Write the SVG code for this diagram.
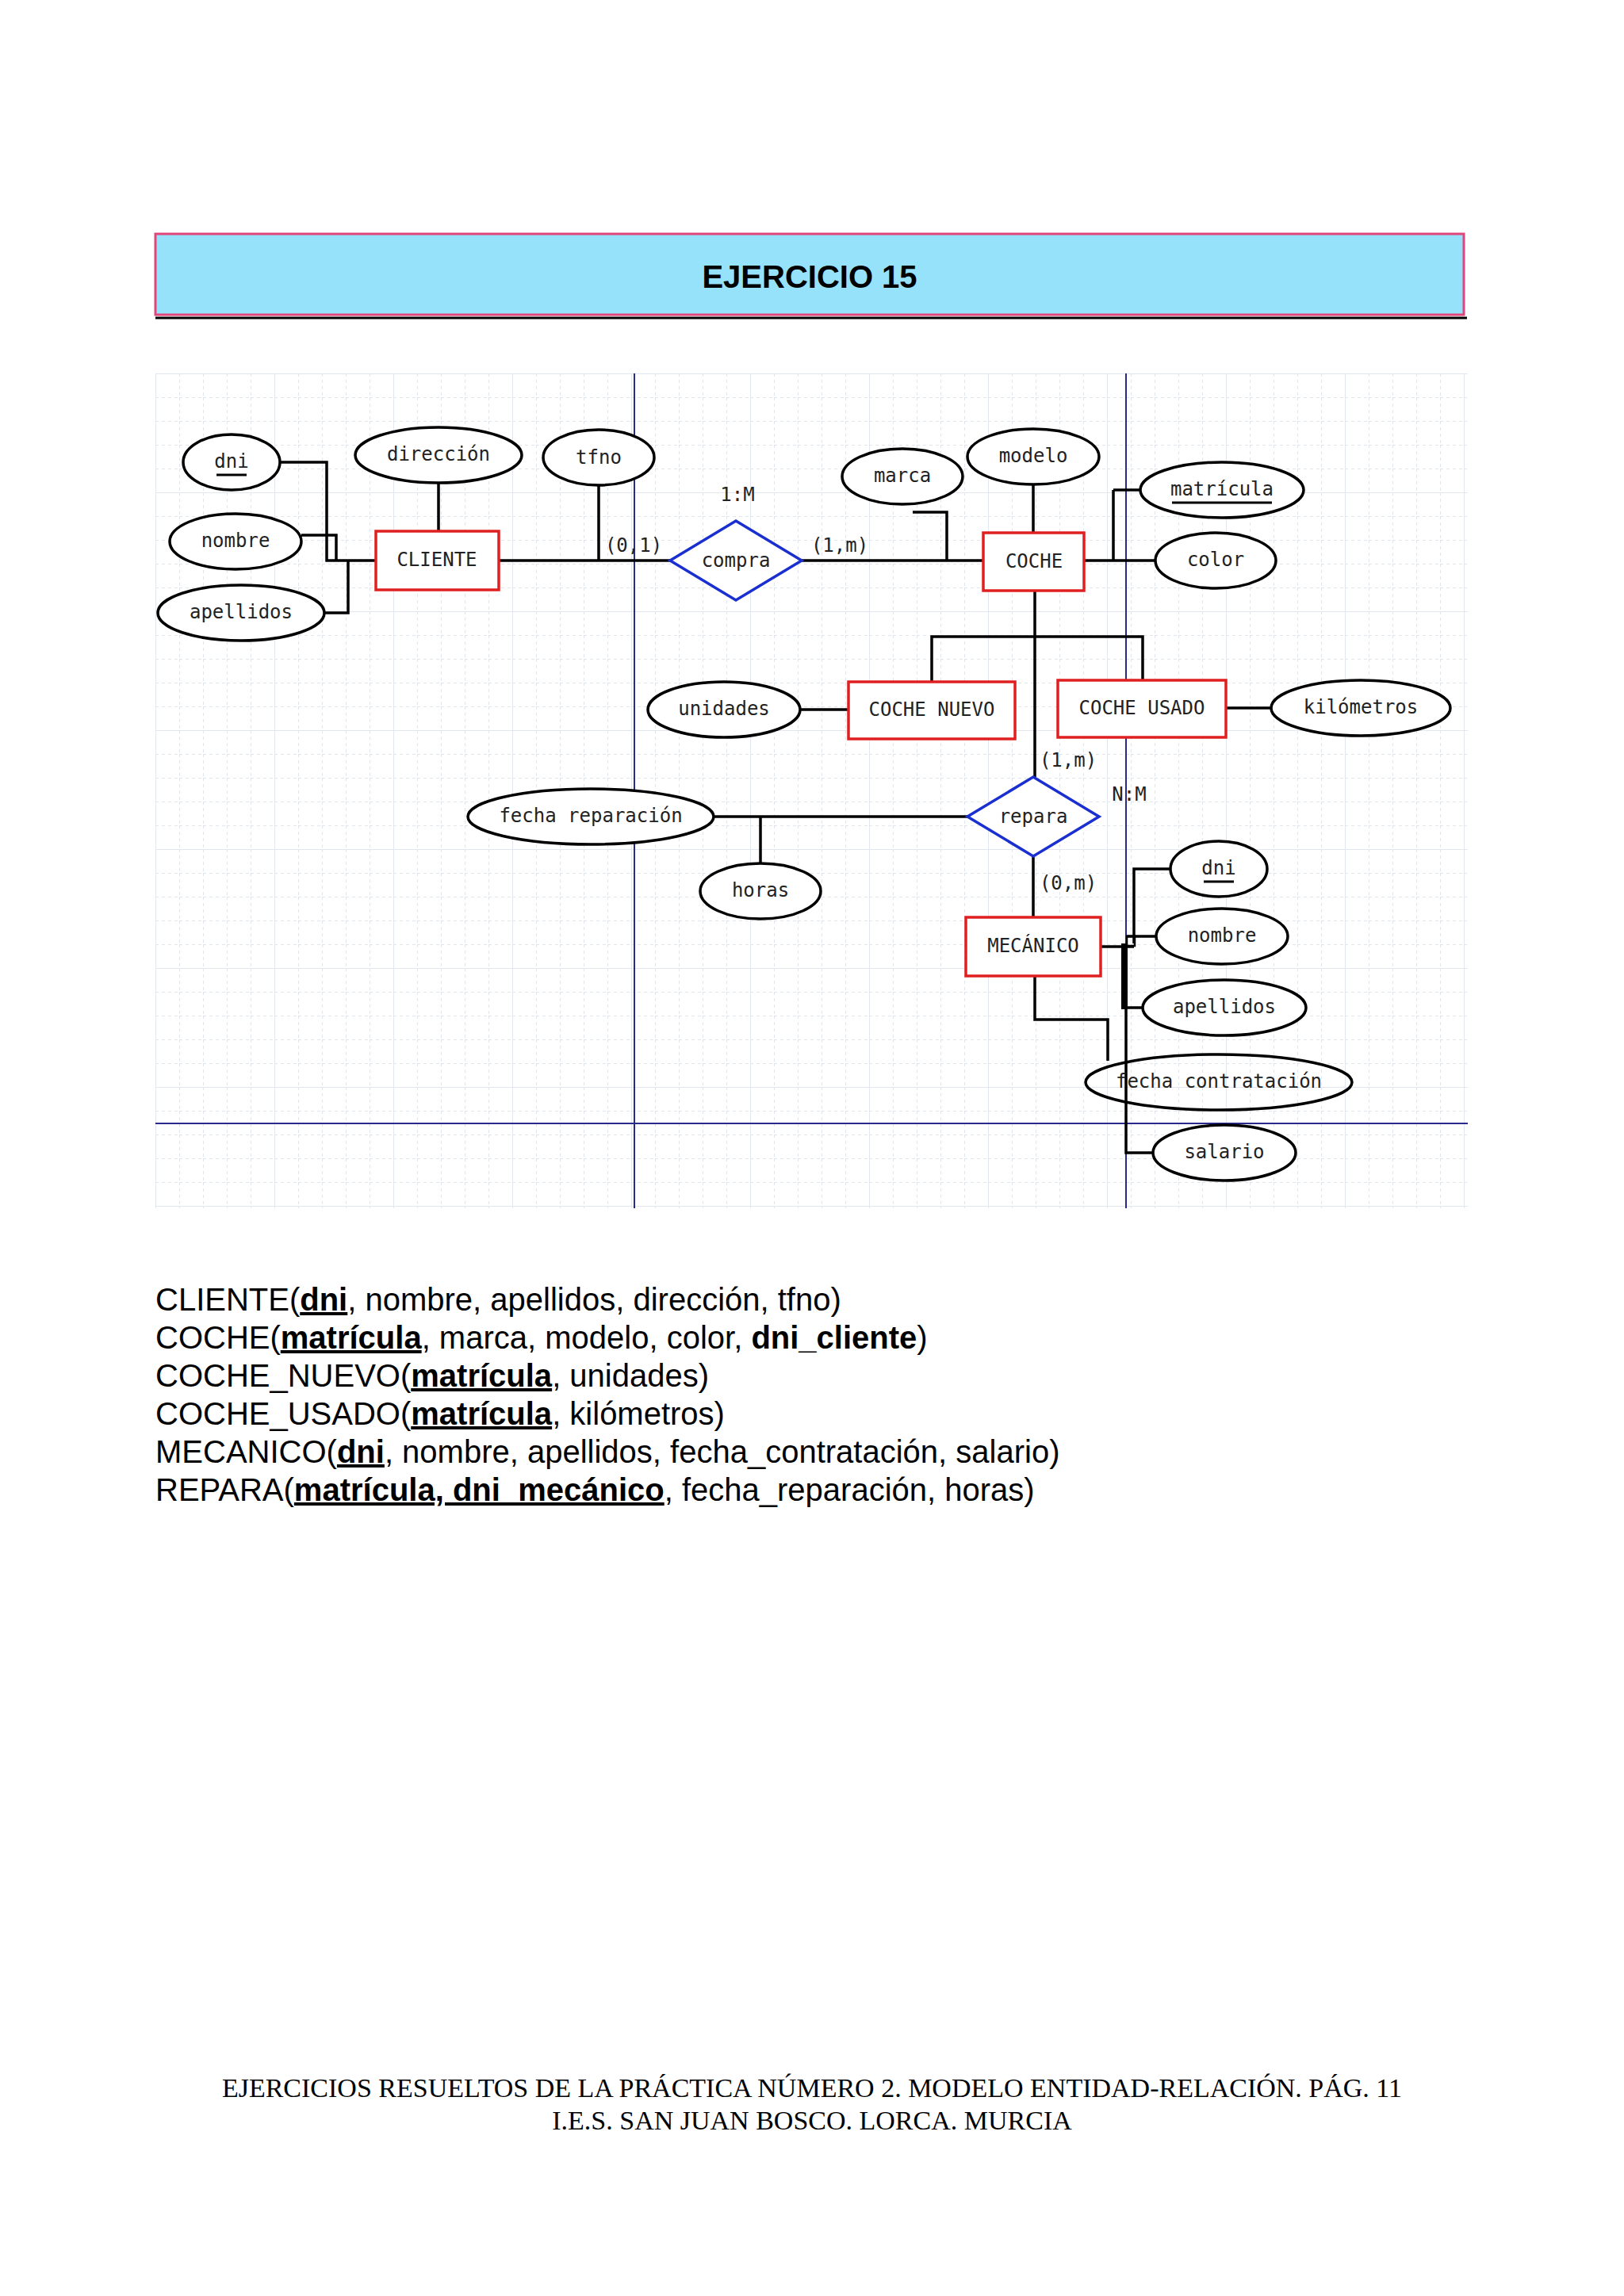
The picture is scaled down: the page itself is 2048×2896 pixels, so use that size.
<svg xmlns="http://www.w3.org/2000/svg" width="2048" height="2896" viewBox="0 0 2048 2896">
<defs>
<pattern id="g" width="30" height="30" patternUnits="userSpaceOnUse" x="196" y="471">
<path d="M0 0H30M0 0V30" fill="none" stroke="#d8dde6" stroke-width="1.5" stroke-dasharray="4 4"/>
</pattern>
<pattern id="g2" width="150" height="150" patternUnits="userSpaceOnUse" x="196" y="471">
<path d="M0 0H150M0 0V150" fill="none" stroke="#e2e6ee" stroke-width="2"/>
</pattern>
</defs>
<style>
.at{fill:#fff;stroke:#000;stroke-width:3.5}
.en{fill:#fff;stroke:#e02020;stroke-width:3.5}
.re{fill:#fff;stroke:#1a2fd0;stroke-width:3.5}
.t{font-family:"DejaVu Sans Mono",monospace;font-size:24px;text-anchor:middle;fill:#222}
.c{fill:none;stroke:#000;stroke-width:3.5}
.b{font-family:"Liberation Sans",Arial,sans-serif;font-size:40px;fill:#000}
.f{font-family:"Liberation Serif","Times New Roman",serif;font-size:34px;text-anchor:middle;fill:#000}
</style>
<rect width="2048" height="2896" fill="#fff"/>
<rect x="196" y="295" width="1650" height="102" fill="#97e2fb" stroke="#e2457a" stroke-width="3"/>
<line x1="196" y1="401" x2="1850" y2="401" stroke="#000" stroke-width="3"/>
<text x="1021" y="363" font-family="Liberation Sans,Arial,sans-serif" font-size="40" font-weight="bold" text-anchor="middle">EJERCICIO 15</text>
<rect x="196" y="471" width="1655" height="1053" fill="url(#g)"/>
<rect x="196" y="471" width="1655" height="1053" fill="url(#g2)"/>
<g stroke="#2a2a8a" stroke-width="2">
<line x1="800" y1="471" x2="800" y2="1524"/>
<line x1="1420" y1="471" x2="1420" y2="1524"/>
<line x1="196" y1="1417" x2="1851" y2="1417"/>
</g>
<g id="connectors">
<path class="c" d="M353 583H412V707H474M380 675H424V707M409 773H439V707M553 609V670M755 612V707M629 707H845M1011 707H1240M1151 646H1194V707M1303 611V672M1367 707H1457M1404 618H1438M1404 618V707M1305 745V980M1175 860V803H1441V858M1009 895H1070M1546 893H1603M1220 1030H900M959 1030V1105M1303 1080V1157M1476 1096H1430V1190M1421 1181H1458M1388 1194H1430M1418 1271H1441M1420 1194V1454H1454M1305 1231V1286H1397V1338"/>
<rect x="1421" y="1181" width="10" height="12" fill="none" stroke="#000" stroke-width="2.5"/>
<line x1="1418" y1="1190" x2="1418" y2="1273" stroke="#000" stroke-width="8"/>
</g>
<g id="n_dni"><ellipse class="at" cx="292" cy="583" rx="61" ry="35"/><text class="t" x="292" y="590">dni</text><line x1="273" y1="599" x2="311" y2="599" stroke="#000" stroke-width="3"/></g>
<g id="n_direccion"><ellipse class="at" cx="553" cy="574" rx="105" ry="35"/><text class="t" x="553" y="581">dirección</text></g>
<g id="n_tfno"><ellipse class="at" cx="755" cy="577" rx="70" ry="35"/><text class="t" x="755" y="585">tfno</text></g>
<g id="n_nombre"><ellipse class="at" cx="297" cy="683" rx="83" ry="35"/><text class="t" x="297" y="690">nombre</text></g>
<g id="n_apellidos"><ellipse class="at" cx="304" cy="773" rx="105" ry="35"/><text class="t" x="304" y="780">apellidos</text></g>
<g id="n_cliente"><rect class="en" x="474" y="670" width="155" height="74"/><text class="t" x="551" y="714">CLIENTE</text></g>
<g id="n_compra"><polygon class="re" points="928,657 1011,707 928,757 845,707"/><text class="t" x="928" y="715">compra</text></g>
<g id="labels">
<text class="t" x="930" y="632" font-family="Liberation Sans,sans-serif">1:M</text>
<text class="t" x="799" y="696">(0,1)</text>
<text class="t" x="1059" y="696">(1,m)</text>
<text class="t" x="1347" y="967">(1,m)</text>
<text class="t" x="1424" y="1010" font-family="Liberation Sans,sans-serif">N:M</text>
<text class="t" x="1347" y="1122">(0,m)</text>
</g>
<g id="n_marca"><ellipse class="at" cx="1138" cy="601" rx="76" ry="35"/><text class="t" x="1138" y="608">marca</text></g>
<g id="n_modelo"><ellipse class="at" cx="1303" cy="576" rx="83" ry="35"/><text class="t" x="1303" y="583">modelo</text></g>
<g id="n_coche"><rect class="en" x="1240" y="672" width="127" height="73"/><text class="t" x="1304" y="716">COCHE</text></g>
<g id="n_matricula"><ellipse class="at" cx="1541" cy="618" rx="103" ry="35"/><text class="t" x="1541" y="625">matrícula</text><line x1="1478" y1="634" x2="1604" y2="634" stroke="#000" stroke-width="3"/></g>
<g id="n_color"><ellipse class="at" cx="1533" cy="707" rx="76" ry="35"/><text class="t" x="1533" y="714">color</text></g>
<g id="n_unidades"><ellipse class="at" cx="913" cy="895" rx="96" ry="35"/><text class="t" x="913" y="902">unidades</text></g>
<g id="n_nuevo"><rect class="en" x="1070" y="860" width="210" height="72"/><text class="t" x="1175" y="903">COCHE NUEVO</text></g>
<g id="n_usado"><rect class="en" x="1334" y="858" width="212" height="72"/><text class="t" x="1440" y="901">COCHE USADO</text></g>
<g id="n_km"><ellipse class="at" cx="1716" cy="893" rx="113" ry="35"/><text class="t" x="1716" y="900">kilómetros</text></g>
<g id="n_repara"><polygon class="re" points="1303,980 1386,1030 1303,1080 1220,1030"/><text class="t" x="1303" y="1038">repara</text></g>
<g id="n_fecharep"><ellipse class="at" cx="745" cy="1030" rx="155" ry="35"/><text class="t" x="745" y="1037">fecha reparación</text></g>
<g id="n_horas"><ellipse class="at" cx="959" cy="1124" rx="76" ry="35"/><text class="t" x="959" y="1131">horas</text></g>
<g id="n_mecanico"><rect class="en" x="1218" y="1157" width="170" height="74"/><text class="t" x="1303" y="1201">MECÁNICO</text></g>
<g id="n_dni2"><ellipse class="at" cx="1537" cy="1096" rx="61" ry="35"/><text class="t" x="1537" y="1103">dni</text><line x1="1518" y1="1112" x2="1556" y2="1112" stroke="#000" stroke-width="3"/></g>
<g id="n_nombre2"><ellipse class="at" cx="1541" cy="1181" rx="83" ry="35"/><text class="t" x="1541" y="1188">nombre</text></g>
<g id="n_apellidos2"><ellipse class="at" cx="1544" cy="1271" rx="103" ry="35"/><text class="t" x="1544" y="1278">apellidos</text></g>
<g id="n_fechacon"><ellipse class="at" cx="1537" cy="1365" rx="168" ry="35" fill="none" style="fill:none"/><text class="t" x="1537" y="1372">fecha contratación</text></g>
<g id="n_salario"><ellipse class="at" cx="1544" cy="1454" rx="90" ry="35"/><text class="t" x="1544" y="1461">salario</text></g>
<g id="relational">
<text class="b" x="196" y="1653">CLIENTE(<tspan font-weight="bold" text-decoration="underline">dni</tspan>, nombre, apellidos, dirección, tfno)</text>
<text class="b" x="196" y="1701">COCHE(<tspan font-weight="bold" text-decoration="underline">matrícula</tspan>, marca, modelo, color, <tspan font-weight="bold">dni_cliente</tspan>)</text>
<text class="b" x="196" y="1749">COCHE_NUEVO(<tspan font-weight="bold" text-decoration="underline">matrícula</tspan>, unidades)</text>
<text class="b" x="196" y="1797">COCHE_USADO(<tspan font-weight="bold" text-decoration="underline">matrícula</tspan>, kilómetros)</text>
<text class="b" x="196" y="1845">MECANICO(<tspan font-weight="bold" text-decoration="underline">dni</tspan>, nombre, apellidos, fecha_contratación, salario)</text>
<text class="b" x="196" y="1893">REPARA(<tspan font-weight="bold" text-decoration="underline">matrícula, dni_mecánico</tspan>, fecha_reparación, horas)</text>
</g>
<text class="f" x="1024" y="2645">EJERCICIOS RESUELTOS DE LA PRÁCTICA NÚMERO 2. MODELO ENTIDAD-RELACIÓN. PÁG. 11</text>
<text class="f" x="1024" y="2686">I.E.S. SAN JUAN BOSCO. LORCA. MURCIA</text>
</svg>
